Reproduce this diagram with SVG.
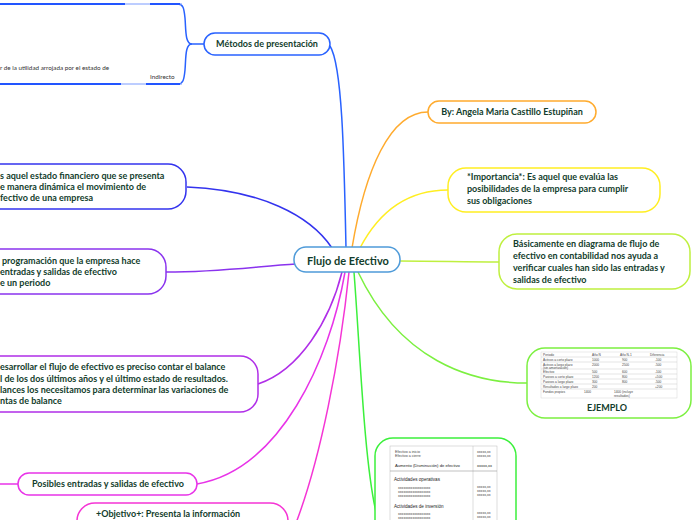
<svg xmlns="http://www.w3.org/2000/svg" width="696" height="520" viewBox="0 0 696 520">
<style>
.t{font-family:Lato,"Open Sans","Liberation Sans",sans-serif;font-weight:700;fill:#123d2c;font-size:9px}
.c{fill:none;stroke-width:1.5}
.n{fill:#fff;stroke-width:1.5}
.s{font-family:Lato,"Liberation Sans",sans-serif;fill:#333;font-size:6.3px}
.tb{font-family:"Liberation Sans",Arial,sans-serif;fill:#444;font-size:3.2px}
.tl{stroke:#bbb;stroke-width:0.4}
</style>
<rect width="696" height="520" fill="#fff"/>
<g id="connectors">
<path class="c" stroke="#2962ff" d="M346,248 C344,150 342,65 330,46"/>
<path class="c" stroke="#2962ff" d="M204,44 L192,44 C185,44 186,30 185,18 C184,8 183,4 178,4"/>
<path class="c" stroke="#2962ff" d="M192,44 C185,44 186,58 185,70 C184,80 183,84 178,84"/>
<path class="c" stroke="#ffab2e" d="M352,248 C365,170 390,112 428,112"/>
<path class="c" stroke="#ffee22" d="M360,248 C385,200 420,190 448,190"/>
<path class="c" stroke="#bff03f" d="M399,261 C440,261 460,262 499,262"/>
<path class="c" stroke="#7cf040" d="M358,272 C400,360 470,383 527,383"/>
<path class="c" stroke="#3cf03c" d="M354,272 C360,350 364,460 376,512"/>
<path class="c" stroke="#3333ee" d="M187,187 C260,190 310,215 332,248"/>
<path class="c" stroke="#8a33ee" d="M166,272 C220,272 260,266 296,264"/>
<path class="c" stroke="#b02ee8" d="M258,384 C300,370 330,320 342,272"/>
<path class="c" stroke="#e833e8" d="M197,484 C280,470 330,360 345,272"/>
<path class="c" stroke="#e833e8" d="M0,484 L18,484"/>
<path class="c" stroke="#f535d5" d="M296,523 C320,460 340,360 349,272"/>
</g>
<g id="metodos-top">
<line x1="0" y1="4" x2="182" y2="4" stroke="#7a9bff" stroke-width="1"/>
<line x1="0" y1="4" x2="125" y2="4" stroke="#2255ff" stroke-width="2"/>
<line x1="150" y1="4" x2="180" y2="4" stroke="#2255ff" stroke-width="2"/>
</g>
<g id="metodos-indirecto">
<text class="s" x="0" y="69.5">r de la utilidad arrojada por el estado de</text>
<text class="s" x="150" y="78.5">Indirecto</text>
<line x1="0" y1="84" x2="182" y2="84" stroke="#7a9bff" stroke-width="1"/>
<line x1="0" y1="84" x2="121" y2="84" stroke="#2255ff" stroke-width="2"/>
<line x1="146" y1="84" x2="180" y2="84" stroke="#2255ff" stroke-width="2"/>
</g>
<g id="center">
<rect class="n" x="294" y="247" width="106" height="25" rx="12" stroke="#4f9bd9"/>
<text class="t" x="348" y="264.5" text-anchor="middle" style="font-size:11px">Flujo de Efectivo</text>
</g>
<g id="metodos">
<rect class="n" x="204" y="33" width="126" height="22" rx="11" stroke="#2962ff"/>
<text class="t" x="267" y="47" text-anchor="middle">Métodos de presentación</text>
</g>
<g id="by">
<rect class="n" x="428" y="101" width="168" height="22" rx="11" stroke="#ffab2e"/>
<text class="t" x="512" y="115" text-anchor="middle">By: Angela Maria Castillo Estupiñan</text>
</g>
<g id="importancia">
<rect class="n" x="448" y="168" width="212" height="44" rx="18" stroke="#ffee22"/>
<text class="t" x="467" y="180">*Importancia*: Es aquel que evalúa las</text>
<text class="t" x="467" y="192">posibilidades de la empresa para cumplir</text>
<text class="t" x="467" y="204">sus obligaciones</text>
</g>
<g id="basicamente">
<rect class="n" x="499" y="234" width="191" height="55" rx="18" stroke="#bff03f"/>
<text class="t" x="513" y="247">Básicamente en diagrama de flujo de</text>
<text class="t" x="513" y="259">efectivo en contabilidad nos ayuda a</text>
<text class="t" x="513" y="271">verificar cuales han sido las entradas y</text>
<text class="t" x="513" y="283">salidas de efectivo</text>
</g>
<g id="ejemplo">
<rect class="n" x="527" y="348" width="164" height="70" rx="18" stroke="#7cf040"/>
<rect x="541" y="352" width="136" height="46" fill="#fff" stroke="#ccc" stroke-width="0.4"/>
<line class="tl" x1="541" y1="357" x2="677" y2="357"/>
<line class="tl" x1="541" y1="362" x2="677" y2="362"/>
<line class="tl" x1="541" y1="369" x2="677" y2="369"/>
<line class="tl" x1="541" y1="374" x2="677" y2="374"/>
<line class="tl" x1="541" y1="379" x2="677" y2="379"/>
<line class="tl" x1="541" y1="384" x2="677" y2="384"/>
<line class="tl" x1="541" y1="389" x2="677" y2="389"/>
<text class="tb" x="543" y="356">Periodo</text><text class="tb" x="592" y="356">Año N</text><text class="tb" x="620" y="356">Año N-1</text><text class="tb" x="650" y="356">Diferencia</text>
<text class="tb" x="543" y="361">Activos a corto plazo</text><text class="tb" x="592" y="361">1000</text><text class="tb" x="622" y="361">900</text><text class="tb" x="655" y="361">-100</text>
<text class="tb" x="543" y="366">Activos a largo plazo</text><text class="tb" x="592" y="366">2000</text><text class="tb" x="622" y="366">2500</text><text class="tb" x="655" y="366">-500</text>
<text class="tb" x="543" y="368.5">(sin amortización)</text>
<text class="tb" x="543" y="373">Efectivo</text><text class="tb" x="592" y="373">500</text><text class="tb" x="622" y="373">600</text><text class="tb" x="655" y="373">-100</text>
<text class="tb" x="543" y="378">Pasivos a corto plazo</text><text class="tb" x="592" y="378">1200</text><text class="tb" x="622" y="378">800</text><text class="tb" x="655" y="378">+500</text>
<text class="tb" x="543" y="383">Pasivos a largo plazo</text><text class="tb" x="592" y="383">300</text><text class="tb" x="622" y="383">800</text><text class="tb" x="655" y="383">-500</text>
<text class="tb" x="543" y="388">Resultados a largo plazo</text><text class="tb" x="592" y="388">200</text><text class="tb" x="655" y="388">+200</text>
<text class="tb" x="543" y="393">Fondos propios</text><text class="tb" x="584" y="393">1400</text><text class="tb" x="614" y="393">1400 (incluye</text><text class="tb" x="614" y="397">resultados)</text>
<text class="t" x="607" y="411" text-anchor="middle" style="font-size:9px">EJEMPLO</text>
</g>
<g id="tabla-flujo">
<rect class="n" x="375" y="438" width="141" height="100" rx="18" stroke="#3cf03c"/>
<rect x="390" y="446" width="107" height="80" fill="#fff" stroke="#bbb" stroke-width="0.5"/>
<line x1="473" y1="446" x2="473" y2="526" stroke="#bbb" stroke-width="0.5"/>
<line x1="390" y1="471" x2="497" y2="471" stroke="#999" stroke-width="0.6"/>
<text class="tb" x="395" y="453" style="font-size:3.6px">Efectivo a inicio</text>
<text class="tb" x="395" y="457" style="font-size:3.6px">Efectivo a cierre</text>
<text class="tb" x="477" y="453" style="font-size:3.6px">xxxxx,xx</text>
<text class="tb" x="477" y="457" style="font-size:3.6px">xxxxx,xx</text>
<text class="tb" x="395" y="467" style="font-size:4.2px;fill:#222">Aumento (Disminución) de efectivo</text>
<text class="tb" x="477" y="467" style="font-size:4px;fill:#222">xxxxx,xx</text>
<text class="tb" x="394" y="481" style="font-size:4.6px;fill:#222">Actividades operativas</text>
<text class="tb" x="398" y="489" style="font-size:3.6px">xxxxxxxxxxxxxxxxxx</text>
<text class="tb" x="398" y="493" style="font-size:3.6px">xxxxxxxxxxxxxxxxxx</text>
<text class="tb" x="398" y="497" style="font-size:3.6px">xxxxxxxxxxxxxxxxxx</text>
<text class="tb" x="477" y="488" style="font-size:3.6px">xxxxx,xx</text>
<text class="tb" x="477" y="492" style="font-size:3.6px">xxxxx,xx</text>
<text class="tb" x="477" y="496" style="font-size:3.6px">xxxxx,xx</text>
<text class="tb" x="394" y="508" style="font-size:4.6px;fill:#222">Actividades de inversión</text>
<text class="tb" x="398" y="515" style="font-size:3.6px">xxxxxxxxxxxxxxxxxx</text>
<text class="tb" x="398" y="519" style="font-size:3.6px">xxxxxxxxxxxxxxxxxx</text>
<text class="tb" x="477" y="514" style="font-size:3.6px">xxxxx,xx</text>
<text class="tb" x="477" y="518" style="font-size:3.6px">xxxxx,xx</text>
</g>
<g id="definicion">
<rect class="n" x="-30" y="164" width="216" height="45" rx="18" stroke="#3333ee"/>
<text class="t" x="0" y="179">s aquel estado financiero que se presenta</text>
<text class="t" x="0" y="190">e manera dinámica el movimiento de</text>
<text class="t" x="0" y="201">fectivo de una empresa</text>
</g>
<g id="programacion">
<rect class="n" x="-30" y="249" width="196" height="45" rx="18" stroke="#8a33ee"/>
<text class="t" x="2" y="264">programación que la empresa hace</text>
<text class="t" x="0" y="275">entradas y salidas de efectivo</text>
<text class="t" x="0" y="286">e un periodo</text>
</g>
<g id="desarrollar">
<rect class="n" x="-30" y="356" width="288" height="56" rx="18" stroke="#b02ee8"/>
<text class="t" x="0" y="370">esarrollar el flujo de efectivo es preciso contar el balance</text>
<text class="t" x="0" y="382">l de los dos últimos años y el último estado de resultados.</text>
<text class="t" x="0" y="393">lances los necesitamos para determinar las variaciones de</text>
<text class="t" x="0" y="404">ntas de balance</text>
</g>
<g id="posibles">
<rect class="n" x="18" y="473" width="179" height="22" rx="11" stroke="#e833e8"/>
<text class="t" x="32" y="487">Posibles entradas y salidas de efectivo</text>
</g>
<g id="objetivo">
<rect class="n" x="77" y="503" width="211" height="40" rx="18" stroke="#f535d5"/>
<text class="t" x="96" y="517">+Objetivo+: Presenta la información</text>
</g>
</svg>
